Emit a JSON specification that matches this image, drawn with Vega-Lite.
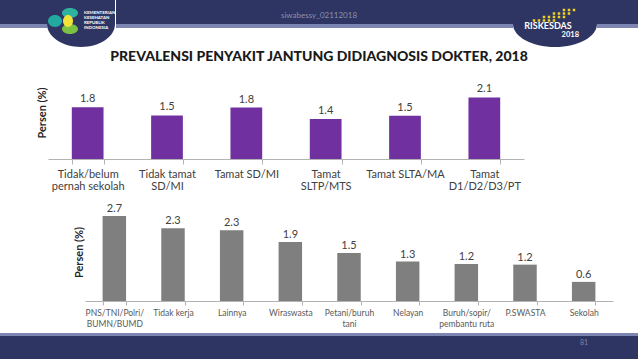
{
  "$schema": "https://vega.github.io/schema/vega-lite/v6.json",
  "padding": 0,
  "spacing": 0,
  "bounds": "full",
  "align": "none",
  "background": "white",
  "config": {"view": {"stroke": null}, "font": "Lato", "axis": {"grid": false}},
  "datasets": {
    "pendidikan": [
      {"kategori": "Tidak/belum|pernah sekolah", "persen": 1.78},
      {"kategori": "Tidak tamat|SD/MI", "persen": 1.5},
      {"kategori": "Tamat SD/MI", "persen": 1.77},
      {"kategori": "Tamat|SLTP/MTS", "persen": 1.38},
      {"kategori": "Tamat SLTA/MA", "persen": 1.49},
      {"kategori": "Tamat|D1/D2/D3/PT", "persen": 2.12}
    ],
    "pekerjaan": [
      {"kategori": "PNS/TNI/Polri/|BUMN/BUMD", "persen": 2.71},
      {"kategori": "Tidak kerja", "persen": 2.32},
      {"kategori": "Lainnya", "persen": 2.26},
      {"kategori": "Wiraswasta", "persen": 1.88},
      {"kategori": "Petani/buruh|tani", "persen": 1.53},
      {"kategori": "Nelayan", "persen": 1.26},
      {"kategori": "Buruh/sopir/|pembantu ruta", "persen": 1.18},
      {"kategori": "P.SWASTA", "persen": 1.16},
      {"kategori": "Sekolah", "persen": 0.61}
    ]
  },
  "vconcat": [
    {
      "spacing": 0,
      "bounds": "full",
      "hconcat": [
        {
          "spacing": 0, "bounds": "full",
          "vconcat": [
            {"width": 47, "height": 24, "view": {"fill": "#2e3562", "stroke": null}, "data": {"values": [{}]}, "mark": {"type": "text", "text": "", "fontSize": 0}, "encoding": {}},
            {"width": 47, "height": 4, "view": {"fill": "#7c84b2", "stroke": null}, "data": {"values": [{}]}, "mark": {"type": "text", "text": "", "fontSize": 0}, "encoding": {}}
          ]
        },
        {
          "width": 68, "height": 47,
          "data": {"values": [{}]},
          "layer": [
            {"mark": {"type": "point", "filled": true, "opacity": 1, "fill": "#2e3562", "strokeWidth": 0, "size": 4624,
                      "shape": "M -1 -0.691 L -1 0.0147 C -1 0.3882 -0.5523 0.691 0 0.691 C 0.5523 0.691 1 0.3882 1 0.0147 L 1 -0.691 Z"}, "encoding": {}},
            {"mark": {"type": "point", "filled": true, "opacity": 1, "fill": "#22aaa0", "strokeWidth": 0, "size": 4624,
                      "shape": "M -0.971 -0.074 C -0.971 -0.171 -0.879 -0.25 -0.765 -0.25 C -0.651 -0.25 -0.559 -0.171 -0.559 -0.074 C -0.559 0.023 -0.651 0.102 -0.765 0.102 C -0.879 0.102 -0.971 0.023 -0.971 -0.074 Z"}, "encoding": {}},
            {"mark": {"type": "point", "filled": true, "opacity": 1, "fill": "#2fb3a0", "strokeWidth": 0, "size": 4624,
                      "shape": "M -0.559 -0.309 C -0.559 -0.39 -0.454 -0.456 -0.324 -0.456 C -0.194 -0.456 -0.089 -0.39 -0.089 -0.309 C -0.089 -0.228 -0.194 -0.162 -0.324 -0.162 C -0.454 -0.162 -0.559 -0.228 -0.559 -0.309 Z"}, "encoding": {}},
            {"mark": {"type": "point", "filled": true, "opacity": 1, "fill": "#7cc242", "strokeWidth": 0, "size": 4624,
                      "shape": "M -0.559 0.162 C -0.559 0.081 -0.454 0.015 -0.324 0.015 C -0.194 0.015 -0.089 0.081 -0.089 0.162 C -0.089 0.243 -0.194 0.309 -0.324 0.309 C -0.454 0.309 -0.559 0.243 -0.559 0.162 Z"}, "encoding": {}},
            {"mark": {"type": "point", "filled": true, "opacity": 1, "fill": "#f2e33a", "strokeWidth": 0, "size": 4624,
                      "shape": "M -0.529 -0.074 C -0.529 -0.171 -0.463 -0.25 -0.382 -0.25 C -0.301 -0.25 -0.235 -0.171 -0.235 -0.074 C -0.235 0.023 -0.301 0.102 -0.382 0.102 C -0.463 0.102 -0.529 0.023 -0.529 -0.074 Z"}, "encoding": {}},
            {"mark": {"type": "text", "text": ["KEMENTERIAN", "KESEHATAN", "REPUBLIK", "INDONESIA"], "align": "left", "baseline": "top",
                      "dx": 3, "dy": -12.5, "font": "Lato", "fontSize": 4.4, "fontWeight": "bold", "lineHeight": 5, "color": "white"}, "encoding": {}}
          ]
        },
        {
          "spacing": 0, "bounds": "full",
          "vconcat": [
            {"width": 397, "height": 24, "view": {"fill": "#2e3562", "stroke": null},
             "data": {"values": [{"teks": "siwabessy_02112018"}]},
             "mark": {"type": "text", "font": "Lato", "fontSize": 8, "color": "#8b90b2", "dx": 4.5, "dy": 3.7},
             "encoding": {"text": {"field": "teks", "type": "nominal"}}},
            {"width": 397, "height": 4, "view": {"fill": "#7c84b2", "stroke": null}, "data": {"values": [{}]}, "mark": {"type": "text", "text": "", "fontSize": 0}, "encoding": {}}
          ]
        },
        {
          "width": 84, "height": 47,
          "data": {"values": [{}]},
          "layer": [
            {"mark": {"type": "point", "filled": true, "opacity": 1, "fill": "#2e3562", "strokeWidth": 0, "size": 7056,
                      "shape": "M -1 -0.5595 L -1 0.0119 C -1 0.3143 -0.5523 0.5595 0 0.5595 C 0.5523 0.5595 1 0.3143 1 0.0119 L 1 -0.5595 Z"}, "encoding": {}},
            {"mark": {"type": "point", "filled": true, "opacity": 1, "fill": "#f0d020", "strokeWidth": 0, "size": 7056,
                      "shape": "M 0.184 -0.351 L 0.244 -0.351 L 0.244 -0.291 L 0.184 -0.291 Z M 0.303 -0.351 L 0.363 -0.351 L 0.363 -0.291 L 0.303 -0.291 Z M 0.422 -0.351 L 0.482 -0.351 L 0.482 -0.291 L 0.422 -0.291 Z M -0.054 -0.268 L 0.006 -0.268 L 0.006 -0.208 L -0.054 -0.208 Z M 0.065 -0.268 L 0.125 -0.268 L 0.125 -0.208 L 0.065 -0.208 Z M 0.184 -0.268 L 0.244 -0.268 L 0.244 -0.208 L 0.184 -0.208 Z M 0.303 -0.268 L 0.363 -0.268 L 0.363 -0.208 L 0.303 -0.208 Z M -0.292 -0.185 L -0.232 -0.185 L -0.232 -0.125 L -0.292 -0.125 Z M -0.173 -0.185 L -0.113 -0.185 L -0.113 -0.125 L -0.173 -0.125 Z M -0.054 -0.185 L 0.006 -0.185 L 0.006 -0.125 L -0.054 -0.125 Z M 0.065 -0.185 L 0.125 -0.185 L 0.125 -0.125 L 0.065 -0.125 Z M 0.184 -0.185 L 0.244 -0.185 L 0.244 -0.125 L 0.184 -0.125 Z M -0.53 -0.101 L -0.47 -0.101 L -0.47 -0.041 L -0.53 -0.041 Z M -0.411 -0.101 L -0.351 -0.101 L -0.351 -0.041 L -0.411 -0.041 Z M -0.292 -0.101 L -0.232 -0.101 L -0.232 -0.041 L -0.292 -0.041 Z M -0.173 -0.101 L -0.113 -0.101 L -0.113 -0.041 L -0.173 -0.041 Z M -0.054 -0.101 L 0.006 -0.101 L 0.006 -0.041 L -0.054 -0.041 Z"}, "encoding": {}},
            {"mark": {"type": "text", "text": "RISKESDAS", "align": "center", "baseline": "middle", "dx": -7, "dy": 2,
                      "font": "Lato", "fontSize": 9, "fontWeight": "bold", "color": "white"}, "encoding": {}},
            {"mark": {"type": "text", "text": "2018", "align": "right", "baseline": "middle", "dx": 24, "dy": 11.5,
                      "font": "Lato", "fontSize": 7.5, "fontWeight": "bold", "color": "white"}, "encoding": {}}
          ]
        },
        {
          "spacing": 0, "bounds": "full",
          "vconcat": [
            {"width": 42, "height": 24, "view": {"fill": "#2e3562", "stroke": null}, "data": {"values": [{}]}, "mark": {"type": "text", "text": "", "fontSize": 0}, "encoding": {}},
            {"width": 42, "height": 4, "view": {"fill": "#7c84b2", "stroke": null}, "data": {"values": [{}]}, "mark": {"type": "text", "text": "", "fontSize": 0}, "encoding": {}}
          ]
        }
      ]
    },
    {
      "width": 638, "height": 19,
      "data": {"values": [{"judul": "PREVALENSI PENYAKIT JANTUNG DIDIAGNOSIS DOKTER, 2018"}]},
      "mark": {"type": "text", "font": "Lato", "fontSize": 14, "fontWeight": 900, "color": "#1a1a1a"},
      "encoding": {"text": {"field": "judul", "type": "nominal"}}
    },
    {
      "spacing": 0,
      "bounds": "flush",
      "hconcat": [
        {"width": 48, "height": 130, "data": {"values": [{}]}, "mark": {"type": "text", "text": "", "fontSize": 0}, "encoding": {}},
        {
          "width": 476, "height": 93,
          "data": {"name": "pendidikan"},
          "encoding": {
            "x": {
              "field": "kategori", "type": "nominal", "sort": null,
              "scale": {"paddingInner": 0.6, "paddingOuter": 0.3},
              "axis": {
                "title": null, "labelAngle": 0, "labelExpr": "split(datum.label, '|')",
                "labelFont": "Lato", "labelFontSize": 11, "labelColor": "#404040", "labelLineHeight": 12,
                "labelPadding": 4, "tickSize": 5, "tickBand": "extent",
                "tickColor": "#b3b3b3", "domainColor": "#b3b3b3"
              }
            },
            "y": {
              "field": "persen", "type": "quantitative",
              "scale": {"domain": [0, 3.2], "nice": false},
              "axis": {
                "title": "Persen (%)", "labels": false, "ticks": false, "domain": false, "grid": false,
                "titleFont": "Lato", "titleFontSize": 11, "titleFontWeight": "bold", "titleColor": "#262626", "titlePadding": 1
              }
            }
          },
          "layer": [
            {"mark": {"type": "bar", "color": "#7030a0"}},
            {
              "mark": {"type": "text", "baseline": "alphabetic", "dy": -5, "font": "Lato", "fontSize": 11, "color": "#404040"},
              "encoding": {"text": {"field": "persen", "type": "quantitative", "format": ".1f"}}
            }
          ]
        }
      ]
    },
    {
      "spacing": 0,
      "bounds": "flush",
      "hconcat": [
        {"width": 85, "height": 137, "data": {"values": [{}]}, "mark": {"type": "text", "text": "", "fontSize": 0}, "encoding": {}},
        {
          "width": 528, "height": 105,
          "data": {"name": "pekerjaan"},
          "encoding": {
            "x": {
              "field": "kategori", "type": "nominal", "sort": null,
              "scale": {"paddingInner": 0.6, "paddingOuter": 0.3},
              "axis": {
                "title": null, "labelAngle": 0, "labelExpr": "split(datum.label, '|')",
                "labelFont": "Lato", "labelFontSize": 8.5, "labelColor": "#595959", "labelLineHeight": 11,
                "labelPadding": 3, "tickSize": 4, "tickBand": "extent",
                "tickColor": "#b3b3b3", "domainColor": "#b3b3b3"
              }
            },
            "y": {
              "field": "persen", "type": "quantitative",
              "scale": {"domain": [0, 3.35], "nice": false},
              "axis": {
                "title": "Persen (%)", "labels": false, "ticks": false, "domain": false, "grid": false,
                "titleFont": "Lato", "titleFontSize": 11, "titleFontWeight": "bold", "titleColor": "#262626",
                "titlePadding": 1, "titleY": 56
              }
            }
          },
          "layer": [
            {"mark": {"type": "bar", "color": "#7f7f7f"}},
            {
              "mark": {"type": "text", "baseline": "alphabetic", "dy": -4, "font": "Lato", "fontSize": 11, "color": "#404040"},
              "encoding": {"text": {"field": "persen", "type": "quantitative", "format": ".1f"}}
            }
          ]
        }
      ]
    },
    {
      "width": 638, "height": 3,
      "view": {"fill": "#7c84b2", "stroke": null},
      "data": {"values": [{}]},
      "mark": {"type": "text", "text": "", "fontSize": 0},
      "encoding": {}
    },
    {
      "spacing": 0,
      "bounds": "flush",
      "hconcat": [
        {"width": 530, "height": 14, "view": {"fill": "#2e3562", "stroke": null}, "data": {"values": [{}]}, "mark": {"type": "text", "text": "", "fontSize": 0}, "encoding": {}},
        {"width": 108, "height": 14, "view": {"fill": "#2e3562", "stroke": null},
         "data": {"values": [{"halaman": "81"}]},
         "mark": {"type": "text", "font": "Lato", "fontSize": 7, "color": "#7f84a8"},
         "encoding": {"text": {"field": "halaman", "type": "nominal"}}}
      ]
    },
    {
      "width": 638, "height": 9,
      "view": {"fill": "#2e3562", "stroke": null},
      "data": {"values": [{}]},
      "mark": {"type": "text", "text": "", "fontSize": 0},
      "encoding": {}
    }
  ]
}
